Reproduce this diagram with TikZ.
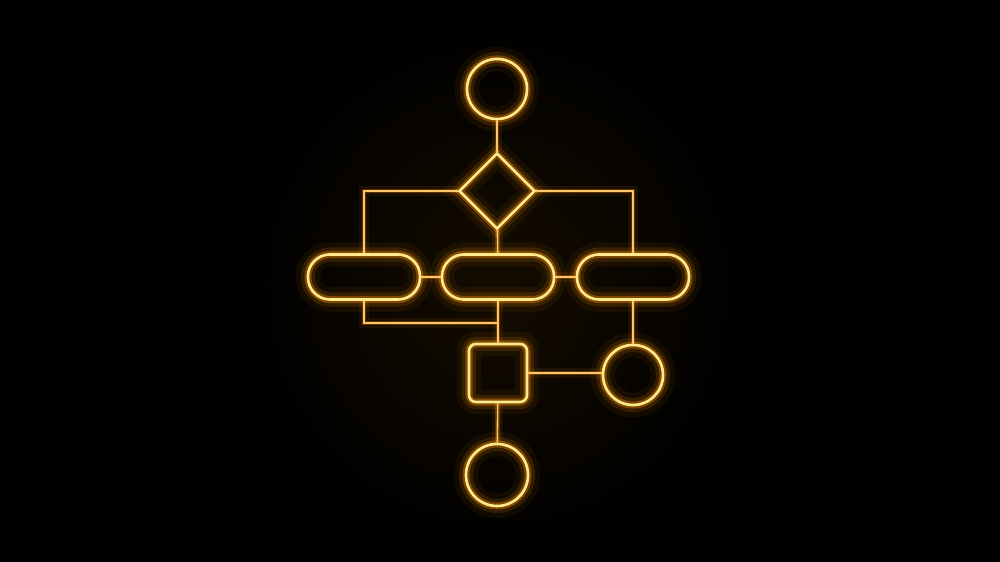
\documentclass[tikz,border=0pt]{standalone}
\usepackage{tikz}
\usetikzlibrary{shapes.geometric, arrows}
\definecolor{neoncore}{HTML}{FFE98F}
\definecolor{neonglow}{HTML}{FF9400}
\definecolor{wirecore}{HTML}{FFC56A}
\tikzstyle{glow} = [preaction={draw=neonglow, line width=7pt, draw opacity=0.06}, preaction={draw=neonglow, line width=4pt, draw opacity=0.14}, preaction={draw=neonglow, line width=2pt, draw opacity=0.35}, draw=neoncore, line width=0.75pt]
\tikzstyle{terminal} = [circle, glow, minimum size=0.6cm, inner sep=0pt]
\tikzstyle{decision} = [diamond, glow, minimum width=0.76cm, minimum height=0.76cm, inner sep=0pt]
\tikzstyle{process} = [rectangle, glow, rounded corners=0.22cm, minimum width=1.12cm, minimum height=0.45cm, inner sep=0pt]
\tikzstyle{block} = [rectangle, glow, rounded corners=2pt, minimum size=0.58cm, inner sep=0pt]
\tikzstyle{wire} = [preaction={draw=neonglow, line width=3pt, draw opacity=0.08}, preaction={draw=neonglow, line width=1.4pt, draw opacity=0.25}, draw=wirecore, line width=0.45pt]

\begin{document}
\begin{tikzpicture}[x=0.01cm, y=-0.01cm]
	\fill[black] (0,0) rectangle (1000,562);
	\useasboundingbox (0,0) rectangle (1000,562);
	\shade[inner color=neonglow!8!black, outer color=black] (497,285) ellipse (260 and 270);

	\node[terminal] (start) at (497,89) {};
	\node[decision] (choice) at (497,191) {};
	\node[process] (left_step) at (364,277) {};
	\node[process] (mid_step) at (498,277) {};
	\node[process] (right_step) at (633,277) {};
	\node[block] (merge_box) at (498,373) {};
	\node[terminal] (side_end) at (633,375) {};
	\node[terminal, minimum size=0.62cm] (finish) at (497,475) {};
	\coordinate (join) at (498,323);

	\draw[wire] (start) -- (choice);
	\draw[wire] (choice.west) -| (left_step.north);
	\draw[wire] (choice.east) -| (right_step.north);
	\draw[wire] (choice) -- (mid_step);
	\draw[wire] (left_step) -- (mid_step);
	\draw[wire] (mid_step) -- (right_step);
	\draw[wire] (left_step.south) |- (join);
	\draw[wire] (mid_step) -- (merge_box);
	\draw[wire] (right_step) -- (side_end);
	\draw[wire] (merge_box.east) -- (merge_box.east -| side_end.west);
	\draw[wire] (merge_box) -- (finish);
\end{tikzpicture}
\end{document}
